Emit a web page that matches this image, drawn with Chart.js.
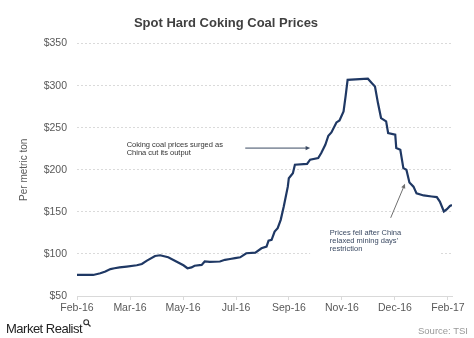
<!DOCTYPE html>
<html>
<head>
<meta charset="utf-8">
<script src="https://cdn.jsdelivr.net/npm/chart.js@4.4.1/dist/chart.umd.min.js"></script>
<style>
html, body { margin: 0; padding: 0; background: #fff; }
#wrap { position: relative; width: 474px; height: 338px; overflow: hidden; }
#wrap canvas { position: absolute; left: 0; top: 0; }
.brand { position: absolute; left: 6px; top: 321px; font: 13px "Liberation Sans", Arial, sans-serif; color: #222; letter-spacing: -0.5px; white-space: nowrap; }
.brand svg { position: relative; top: -6px; left: 1px; }
.src { position: absolute; right: 6px; top: 325px; font: 9.5px "Liberation Sans", Arial, sans-serif; color: #999; }
</style>
</head>
<body>
<div id="wrap">
  <canvas id="coalChart" width="474" height="338"></canvas>
  <div class="brand">Market Realist<svg width="8" height="8" viewBox="0 0 8 8"><circle cx="3.2" cy="3.2" r="2.4" fill="none" stroke="#333" stroke-width="1.1"/><line x1="5" y1="5" x2="7.5" y2="7.5" stroke="#333" stroke-width="1.3"/></svg></div>
  <div class="src">Source: TSI</div>
</div>
<script>
// days since start of Feb-16, spot price in $ per metric ton
const days = [0, 16, 23, 28, 33, 37, 42, 49, 59, 64, 69, 77, 82, 90, 97, 105, 109, 113, 116, 123, 126, 131, 141, 146, 151, 156, 161,
  167, 176, 182, 187, 189, 192, 195, 198, 201, 204, 208, 209, 213, 215, 227, 230, 238, 241, 245, 248, 251, 256, 259, 263, 265, 267,
  287, 291, 294, 297, 300, 305, 307, 314, 315, 319, 322, 325, 328, 332, 335, 342, 350, 355, 358, 362, 365, 368, 370];
const prices = [75, 75, 77, 79, 82, 83, 84, 85, 86.5, 88, 92, 97.6, 98.4, 96, 91.7, 86.5, 83, 84, 86, 87, 91, 90.5, 91, 93, 94, 95, 96,
  100.8, 101.5, 106.7, 108.7, 115.8, 116.7, 126.5, 130.6, 140.5, 156.3, 180, 190, 196, 206, 207, 212, 214, 220, 229.8, 240.5, 244.4, 256.3, 258.7, 269.4, 287.3, 307,
  308.3, 303, 299, 279, 261.5, 257.5, 243.6, 241.7, 226, 223.8, 202, 200, 185, 180, 172, 169.5, 168.3, 167.5, 162.3, 150.5, 153.2, 157, 158.3];

const tickLabels = ['Feb-16', 'Mar-16', 'May-16', 'Jul-16', 'Sep-16', 'Nov-16', 'Dec-16', 'Feb-17'];
const tickDays = [0, 52.3, 104.6, 156.9, 209.1, 261.4, 313.7, 366];

const FONT = '"Liberation Sans", Arial, sans-serif';

// annotation notes, placed in data units (day, price)
const noteLeft = { x: 49, y: [229.8, 219.9], lines: ['Coking coal prices surged as', 'China cut its output'],
  arrow: { from: [166, 225.8], to: [230, 225.8] }, color: '#3b4a63' };
const noteRight = { x: 249.5, y: [125.4, 115.5, 106], lines: ['Prices fell after China', 'relaxed mining days\u2019', 'restriction'],
  arrow: { from: [309.5, 142.9], to: [323.6, 183.3] }, color: '#6f6f6f',
  box: { x0: 230, x1: 358, y0: 97, y1: 137 } };

function drawArrow(ctx, x1, y1, x2, y2, color) {
  const a = Math.atan2(y2 - y1, x2 - x1), h = 5;
  ctx.strokeStyle = color; ctx.fillStyle = color; ctx.lineWidth = 1;
  ctx.beginPath(); ctx.moveTo(x1, y1); ctx.lineTo(x2 - Math.cos(a) * h * 0.8, y2 - Math.sin(a) * h * 0.8); ctx.stroke();
  ctx.beginPath();
  ctx.moveTo(x2, y2);
  ctx.lineTo(x2 - h * Math.cos(a - 0.45), y2 - h * Math.sin(a - 0.45));
  ctx.lineTo(x2 - h * Math.cos(a + 0.45), y2 - h * Math.sin(a + 0.45));
  ctx.closePath(); ctx.fill();
}

const notesPlugin = {
  id: 'notes',
  beforeDatasetsDraw(chart) {
    const { ctx, scales: { x, y } } = chart, b = noteRight.box;
    ctx.save();
    ctx.fillStyle = '#fff';
    ctx.fillRect(x.getPixelForValue(b.x0), y.getPixelForValue(b.y1), x.getPixelForValue(b.x1) - x.getPixelForValue(b.x0), y.getPixelForValue(b.y0) - y.getPixelForValue(b.y1));
    ctx.restore();
  },
  afterDatasetsDraw(chart) {
    const { ctx, scales: { x, y } } = chart;
    ctx.save();
    ctx.font = '7.5px ' + FONT;
    ctx.fillStyle = '#333';
    ctx.textBaseline = 'middle';
    [noteLeft, noteRight].forEach(n => {
      n.lines.forEach((t, i) => ctx.fillText(t, x.getPixelForValue(n.x), y.getPixelForValue(n.y[i])));
      drawArrow(ctx, x.getPixelForValue(n.arrow.from[0]), y.getPixelForValue(n.arrow.from[1]),
        x.getPixelForValue(n.arrow.to[0]), y.getPixelForValue(n.arrow.to[1]), n.color);
    });
    ctx.restore();
  }
};

new Chart(document.getElementById('coalChart'), {
  type: 'line',
  data: {
    datasets: [{
      data: days.map((d, i) => ({ x: d, y: prices[i] })),
      borderColor: '#1f3864',
      borderWidth: 2.2,
      pointRadius: 0,
      tension: 0
    }]
  },
  options: {
    responsive: false,
    animation: false,
    layout: { padding: { left: 0, right: 22, top: 0, bottom: 14 } },
    plugins: {
      legend: { display: false },
      tooltip: { enabled: false },
      title: {
        display: true,
        text: 'Spot Hard Coking Coal Prices',
        color: '#404040',
        font: { family: FONT, size: 13, weight: 'bold' },
        padding: { top: 16, bottom: 12 }
      }
    },
    scales: {
      x: {
        type: 'linear',
        min: 0,
        max: 370,
        afterBuildTicks: s => { s.ticks = tickDays.map(v => ({ value: v })); },
        afterFit: s => { s.height = 28; },
        ticks: {
          callback: (v, i) => tickLabels[i],
          autoSkip: false,
          maxRotation: 0,
          padding: 2,
          color: '#595959',
          font: { family: FONT, size: 10.5 }
        },
        grid: { drawOnChartArea: false, tickLength: 4, color: '#d9d9d9' },
        border: { color: '#d9d9d9' }
      },
      y: {
        min: 50,
        max: 350,
        afterFit: s => { s.width = 77; },
        ticks: {
          stepSize: 50,
          callback: v => '$' + v,
          padding: 10,
          color: '#595959',
          font: { family: FONT, size: 10.5 }
        },
        grid: { color: '#dadada', drawTicks: false },
        border: { display: false, dash: [2, 2] },
        title: {
          display: true,
          text: 'Per metric ton',
          color: '#595959',
          font: { family: FONT, size: 10 },
          padding: { top: 18, bottom: 0 }
        }
      }
    }
  },
  plugins: [notesPlugin]
});
</script>
</body>
</html>
